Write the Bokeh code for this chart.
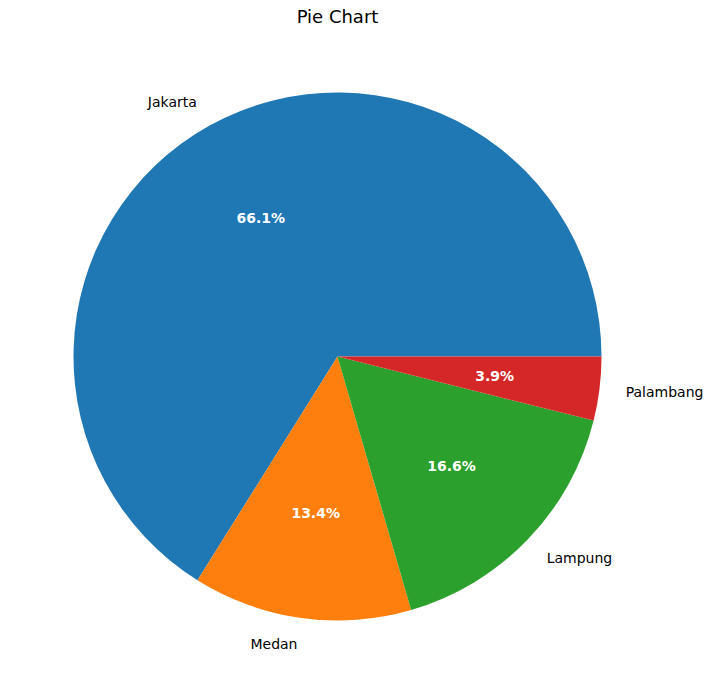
import math
from bokeh.plotting import figure
from bokeh.models import ColumnDataSource, Range1d
from bokeh.core.properties import value
from bokeh.embed import file_html
from bokeh.resources import INLINE

cities = ["Jakarta", "Medan", "Lampung", "Palambang"]
shares = [66.1, 13.4, 16.6, 3.9]
colors = ["#1f77b4", "#ff7f0e", "#2ca02c", "#d62728"]
title_text = "Pie Chart"

W, H = 708, 690
R_PX = 264.0
CX, CY = 337.0, 356.0  # pie centre in canvas pixels (from top-left)

total = sum(shares)
starts, ends, mids = [], [], []
acc = 0.0
for s in shares:
    a0 = acc / total * 2 * math.pi
    acc += s
    a1 = acc / total * 2 * math.pi
    starts.append(a0)
    ends.append(a1)
    mids.append((a0 + a1) / 2)

lab_x = [1.1 * math.cos(m) for m in mids]
lab_y = [1.1 * math.sin(m) for m in mids]
lab_align = ["left" if x > 0 else "right" for x in lab_x]
pct_x = [0.6 * math.cos(m) for m in mids]
pct_y = [0.6 * math.sin(m) for m in mids]
pct_txt = ["%.1f%%" % (s / total * 100) for s in shares]

src = ColumnDataSource(dict(city=cities, share=shares, color=colors,
                            start=starts, end=ends,
                            lx=lab_x, ly=lab_y, la=lab_align,
                            px=pct_x, py=pct_y, pt=pct_txt))

p = figure(width=W, height=H, output_backend="svg", toolbar_location=None,
           x_range=Range1d(-CX / R_PX, (W - CX) / R_PX),
           y_range=Range1d(-(H - CY) / R_PX, CY / R_PX),
           min_border=0)
p.axis.visible = False
p.grid.visible = False
p.outline_line_color = None

p.wedge(x=0, y=0, radius=1.0, start_angle="start", end_angle="end",
        fill_color="color", line_color=None, source=src)

p.text(x="lx", y="ly", text="city", text_align="la", text_baseline="middle",
       text_font=value("DejaVu Sans"), text_font_size="14px",
       text_color="black", source=src)
p.text(x="px", y="py", text="pt", text_align="center", text_baseline="middle",
       text_font=value("DejaVu Sans"), text_font_size="14px",
       text_font_style="bold", text_color="white", source=src)

p.text(x=[0], y=[(CY - 16) / R_PX], text=[title_text], text_align="center",
       text_baseline="middle", text_font=value("DejaVu Sans"),
       text_font_size="18px", text_color="black")

open("out.html", "w").write(file_html(p, INLINE))
